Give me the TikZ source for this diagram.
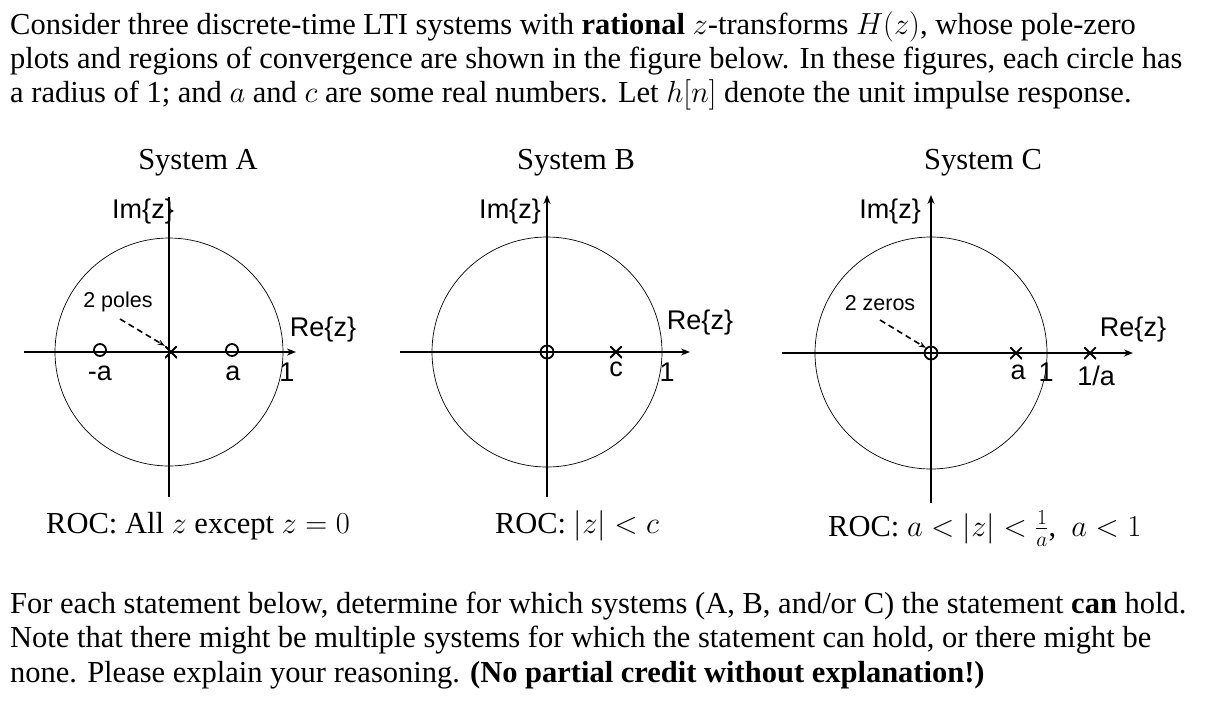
\RequirePackage{fix-cm}
\documentclass[tikz,border=0pt]{standalone}
\usepackage{fontspec}
\setmainfont{Liberation Serif}
\newfontfamily\arial{Liberation Sans}
\usetikzlibrary{arrows.meta}
\begin{document}
\begin{tikzpicture}[x=1pt,y=-1pt,
  body/.style={anchor=west,inner sep=0pt,font=\fontsize{30.5}{34}\selectfont},
  lbl/.style={inner sep=0pt,font=\arial\fontsize{27}{30}\selectfont},
  small/.style={inner sep=0pt,font=\arial\fontsize{21.5}{24}\selectfont},
  axis/.style={line width=1.8pt,-{Stealth[length=9pt,width=7pt]}},
  axisn/.style={line width=1.8pt},
  ucirc/.style={line width=0.7pt},
  zero/.style={circle,draw,line width=1.8pt,minimum size=13pt,inner sep=0pt},
  pole/.style={inner sep=0pt,minimum size=12pt,path picture={\draw[line width=1.8pt](path picture bounding box.south west)--(path picture bounding box.north east)(path picture bounding box.north west)--(path picture bounding box.south east);}},
  dasharrow/.style={dash pattern=on 6pt off 4pt,line width=1.6pt,-{Stealth[length=7pt]}}]
\useasboundingbox (0,0) rectangle (1222,710);
\node[body] (t1) at (10,27) {Consider three discrete-time LTI systems with \textbf{rational} $z$-transforms $H(z)$, whose pole-zero};
\node[body] (t2) at (10,61) {plots and regions of convergence are shown in the figure below. In these figures, each circle has};
\node[body] (t3) at (10,95) {a radius of 1; and $a$ and $c$ are some real numbers. Let $h[n]$ denote the unit impulse response.};
% System A
\node[body,anchor=center] (ta) at (198,163) {System A};
\draw[ucirc] (169,352) circle (114);
\coordinate (al) at (24,352); \coordinate (ar) at (296,352);
\coordinate (ab) at (169,497); \coordinate (at) at (169,197);
\draw[axis] (al)--(ar); \draw[axisn] (ab)--(at);
\node[zero,minimum size=12pt] (za1) at (100,350) {};
\node[zero,minimum size=12pt] (za2) at (232,350) {};
\node[pole] (pa) at (171,352) {};
\node[lbl] (ima) at (143,212) {Im\{z\}};
\node[lbl] (rea) at (323,330) {Re\{z\}};
\node[lbl] (lma) at (100,373) {-a};
\node[lbl] (laa) at (233,373) {a};
\node[lbl] (l1a) at (287,372) {1};
\node[small] (pla) at (118,302) {2 poles};
\coordinate (dsa) at (120,319);
\draw[dasharrow] (dsa) -- (pa.north west);
\node[body,anchor=base] (roca) at (198,533) {ROC: All $z$ except $z=0$};
% System B
\node[body,anchor=center] (tb) at (576,163) {System B};
\draw[ucirc] (547,352) circle (115);
\coordinate (bl) at (400,352); \coordinate (br) at (690,352);
\coordinate (bb) at (547,497); \coordinate (bt) at (547,195);
\draw[axis] (bl)--(br); \draw[axis] (bb)--(bt);
\node[zero] (zb) at (547,352) {};
\node[pole] (pb) at (616,352) {};
\node[lbl] (imb) at (510,212) {Im\{z\}};
\node[lbl] (reb) at (700,323) {Re\{z\}};
\node[lbl] (lcb) at (616,369) {c};
\node[lbl] (l1b) at (667,372) {1};
\node[body,anchor=base] (rocb) at (577,533) {ROC: $|z|<c$};
% System C
\node[body,anchor=center] (tc) at (983,163) {System C};
\draw[ucirc] (931,353) circle (116);
\coordinate (cl) at (782,353); \coordinate (cr) at (1133,353);
\coordinate (cb) at (931,503); \coordinate (ct) at (931,195);
\draw[axis] (cl)--(cr); \draw[axis] (cb)--(ct);
\node[zero] (zc) at (931,353) {};
\node[pole] (pc1) at (1016,353) {};
\node[pole] (pc2) at (1090,353) {};
\node[lbl] (imc) at (890,212) {Im\{z\}};
\node[lbl] (rec) at (1133,330) {Re\{z\}};
\node[lbl] (lac) at (1018,372) {a};
\node[lbl] (l1c) at (1046,372) {1};
\node[lbl] (lic) at (1096,376) {1/a};
\node[small] (zlc) at (880,303) {2 zeros};
\coordinate (dsc) at (880,320);
\draw[dasharrow] (dsc) -- (zc.north west);
\node[body,anchor=base west] (rocc) at (828,536) {ROC: $a<|z|<\frac{1}{a}$,\ \ $a<1$};
% bottom
\node[body] (b1) at (10,606) {For each statement below, determine for which systems (A, B, and/or C) the statement \textbf{can} hold.};
\node[body] (b2) at (10,640) {Note that there might be multiple systems for which the statement can hold, or there might be};
\node[body] (b3) at (10,675) {none. Please explain your reasoning. \textbf{(No partial credit without explanation!)}};
\end{tikzpicture}
\end{document}
